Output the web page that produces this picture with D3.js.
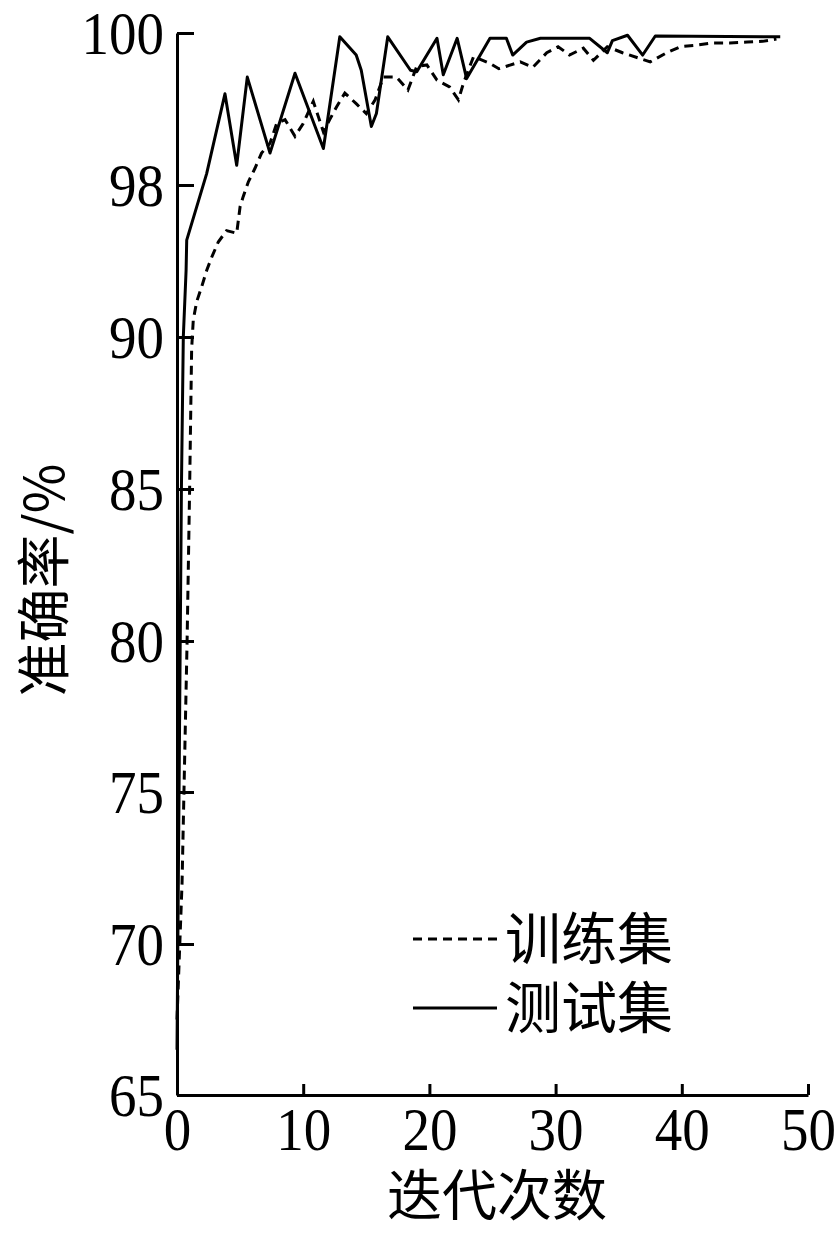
<!DOCTYPE html>
<html lang="zh">
<head>
<meta charset="utf-8">
<script src="https://cdn.jsdelivr.net/npm/d3@7/dist/d3.min.js"></script>
<title>准确率</title>
<style>
  body { margin: 0; background: #fff; }
</style>
</head>
<body>
<div id="chart"></div>
<script>
  var width = 838, height = 1233;

  // tick labels (y axis is piecewise: 90 -> 98 -> 100 share equal spacing)
  var yTicks = [65, 70, 75, 80, 85, 90, 98, 100];
  var xTicks = [0, 10, 20, 30, 40, 50];

  // 训练集 (dashed)
  var trainIter = [0, 0.4, 0.8, 1.0, 1.16, 1.29, 1.56, 1.96, 2.35, 2.75, 3.27, 3.93, 4.73, 5.0, 5.25,
    5.65, 6.18, 6.7, 7.37, 7.9, 8.56, 9.35, 10.0, 10.8, 11.2, 11.6, 12.1, 12.65, 13.3, 14.2, 15.0,
    15.7, 16.35, 17.4, 18.3, 19.0, 19.8, 20.6, 21.6, 22.3, 22.7, 23.5, 24.8, 25.5, 27.2, 28.2, 29.3,
    30.2, 31.1, 32.2, 33.0, 34.1, 35.3, 37.5, 38.8, 39.9, 41.2, 42.5, 43.8, 45.2, 46.4, 47.5];
  var trainAcc = [67.5, 72, 80, 85, 89.6, 90.9, 91.86, 92.65, 93.5, 94.2, 95.0, 95.6, 95.46, 96.86, 97.4,
    98.04, 98.22, 98.42, 98.55, 98.81, 98.86, 98.64, 98.81, 99.1, 98.9, 98.7, 98.86, 99.03, 99.21, 99.07, 98.94,
    99.12, 99.42, 99.42, 99.25, 99.56, 99.58, 99.38, 99.29, 99.12, 99.34, 99.69, 99.6, 99.53, 99.62, 99.55, 99.74,
    99.82, 99.71, 99.8, 99.64, 99.82, 99.74, 99.62, 99.74, 99.82, 99.84, 99.87, 99.87, 99.88, 99.89, 99.92];

  // 测试集 (solid)
  var testIter = [0, 0.35, 0.5, 0.72, 0.77, 2.35, 3.8, 4.73, 5.57, 7.37, 9.35, 11.6, 12.9, 14.2, 14.6,
    15.4, 15.8, 16.7, 18.5, 19.0, 20.6, 21.1, 22.2, 22.95, 24.8, 26.1, 26.6, 27.7, 28.8, 32.7, 34.1,
    34.5, 35.7, 36.9, 37.9, 47.8];
  var testAcc = [66.5, 85, 90, 93.5, 95.1, 98.15, 99.2, 98.26, 99.42, 98.42, 99.47, 98.48, 99.95, 99.71, 99.51,
    98.77, 98.94, 99.95, 99.51, 99.49, 99.93, 99.45, 99.93, 99.4, 99.93, 99.93, 99.71, 99.88, 99.93, 99.93, 99.74,
    99.9, 99.97, 99.71, 99.96, 99.95];

  var legendNames = ["训练集", "测试集"];

  var svg = d3.select("#chart").append("svg")
    .attr("width", width).attr("height", height);

  var x = d3.scaleLinear().domain([0, 50]).range([177, 808]);
  var yPix = [1095, 944, 792, 641, 489, 337, 185, 33];
  var y = d3.scaleLinear().domain(yTicks).range(yPix);

  var numFont = "'Liberation Serif', 'Times New Roman', serif";
  var cjkFont = "'Noto Sans CJK SC', sans-serif";

  // y axis
  var gy = svg.append("g").attr("transform", "translate(" + x(0) + ",0)")
    .call(d3.axisLeft(y).tickValues(yTicks).tickSizeInner(-17).tickSizeOuter(0).tickFormat(d3.format("d")));
  gy.select(".domain").attr("stroke", "#000").attr("stroke-width", 3);
  gy.selectAll(".tick line").attr("stroke", "#000").attr("stroke-width", 3);
  gy.selectAll(".tick text")
    .attr("x", null).attr("dy", null)
    .attr("text-anchor", "end")
    .attr("font-family", numFont).attr("font-size", 55).attr("fill", "#000")
    .attr("transform", "translate(-13,20) scale(1,1.1)");

  // x axis
  var gx = svg.append("g").attr("transform", "translate(0," + y(65) + ")")
    .call(d3.axisBottom(x).tickValues(xTicks).tickSizeInner(-11).tickSizeOuter(0));
  gx.select(".domain").attr("stroke", "#000").attr("stroke-width", 3);
  gx.selectAll(".tick line").attr("stroke", "#000").attr("stroke-width", 3);
  gx.selectAll(".tick text")
    .attr("y", null).attr("dy", null)
    .attr("font-family", numFont).attr("font-size", 55).attr("fill", "#000")
    .attr("transform", "translate(0,55) scale(1,1.1)");

  var trainData = trainIter.map(function (d, i) { return [d, trainAcc[i]]; });
  var testData = testIter.map(function (d, i) { return [d, testAcc[i]]; });

  var line = d3.line()
    .x(function (d) { return x(d[0]); })
    .y(function (d) { return y(d[1]); });

  svg.append("path").datum(trainData)
    .attr("d", line).attr("fill", "none")
    .attr("stroke", "#000").attr("stroke-width", 3)
    .attr("stroke-dasharray", "9,6");

  svg.append("path").datum(testData)
    .attr("d", line).attr("fill", "none")
    .attr("stroke", "#000").attr("stroke-width", 3)
    .attr("stroke-linejoin", "round");

  // legend
  var legend = svg.append("g");
  var legY = [939, 1008];
  legendNames.forEach(function (name, i) {
    legend.append("line")
      .attr("x1", 413).attr("x2", 497)
      .attr("y1", legY[i]).attr("y2", legY[i])
      .attr("stroke", "#000").attr("stroke-width", 3)
      .attr("stroke-dasharray", i === 0 ? "9,6" : null);
    legend.append("text")
      .attr("x", 505).attr("y", legY[i] + 20)
      .attr("font-family", cjkFont).attr("font-size", 56)
      .text(name);
  });

  // axis titles
  svg.append("text")
    .attr("x", 497).attr("y", 1215)
    .attr("text-anchor", "middle")
    .attr("font-family", cjkFont).attr("font-size", 55)
    .text("迭代次数");

  svg.append("text")
    .attr("transform", "translate(64,580) rotate(-90)")
    .attr("text-anchor", "middle")
    .attr("font-family", cjkFont).attr("font-size", 54)
    .text("准确率/%");
</script>
</body>
</html>
